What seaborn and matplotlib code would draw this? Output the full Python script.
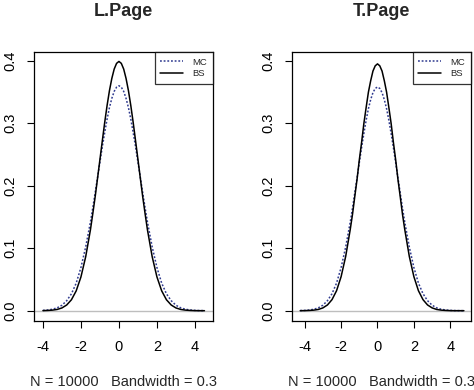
import pandas as pd
import seaborn as sns
import matplotlib.pyplot as plt

# values (density estimates; finer steps near the peak)
x_left = [-4.0, -3.75, -3.5, -3.25, -3.0, -2.75, -2.5, -2.25, -2.0, -1.75, -1.5, -1.375, -1.25,
          -1.125, -1.0, -0.875, -0.75, -0.625, -0.5, -0.375, -0.25, -0.125, 0.0,
          0.125, 0.25, 0.375, 0.5, 0.625, 0.75, 0.875, 1.0, 1.125, 1.25, 1.375, 1.5, 1.75,
          2.0, 2.25, 2.5, 2.75, 3.0, 3.25, 3.5, 3.75, 4.0, 4.25, 4.5]
bs_left = [0.0001, 0.0004, 0.0009, 0.0020, 0.0044, 0.0091, 0.0175, 0.0317, 0.0540, 0.0863,
           0.1295, 0.1555, 0.1826, 0.2121, 0.2420, 0.2718, 0.3011, 0.3282, 0.3521, 0.3716,
           0.3867, 0.3958, 0.3989,
           0.3958, 0.3867, 0.3716, 0.3521, 0.3282, 0.3011, 0.2718, 0.2420, 0.2121, 0.1826,
           0.1555, 0.1295, 0.0863, 0.0540, 0.0317, 0.0175, 0.0091, 0.0044, 0.0020,
           0.0009, 0.0004, 0.0001, 0.0000, 0.0000]
mc_left = [0.0005, 0.0011, 0.0023, 0.0046, 0.0087, 0.0160, 0.0270, 0.0440, 0.0690, 0.1020,
           0.1420, 0.1648, 0.1890, 0.2134, 0.2380, 0.2624, 0.2850, 0.3064, 0.3250, 0.3397,
           0.3510, 0.3577, 0.3600,
           0.3577, 0.3510, 0.3397, 0.3250, 0.3064, 0.2850, 0.2624, 0.2380, 0.2134, 0.1890,
           0.1648, 0.1420, 0.1020, 0.0690, 0.0440, 0.0270, 0.0160, 0.0087, 0.0046,
           0.0023, 0.0011, 0.0005, 0.0002, 0.0001]

x_right = [-4.25, -4.0, -3.75, -3.5, -3.25, -3.0, -2.75, -2.5, -2.25, -2.0, -1.75, -1.5, -1.375,
           -1.25, -1.125, -1.0, -0.875, -0.75, -0.625, -0.5, -0.375, -0.25, -0.125, 0.0,
           0.125, 0.25, 0.375, 0.5, 0.625, 0.75, 0.875, 1.0, 1.125, 1.25, 1.375, 1.5, 1.75,
           2.0, 2.25, 2.5, 2.75, 3.0, 3.25, 3.5, 3.75, 4.0, 4.25, 4.5, 4.75]
bs_right = [0.0000, 0.0001, 0.0004, 0.0009, 0.0020, 0.0045, 0.0092, 0.0177, 0.0320, 0.0545,
            0.0867, 0.1297, 0.1540, 0.1824, 0.2100, 0.2412, 0.2691, 0.2995, 0.3250, 0.3497,
            0.3680, 0.3835, 0.3919, 0.3950,
            0.3919, 0.3835, 0.3680, 0.3497, 0.3250, 0.2995, 0.2691, 0.2412, 0.2100, 0.1824,
            0.1540, 0.1297, 0.0867, 0.0545, 0.0320, 0.0177, 0.0092, 0.0045, 0.0020,
            0.0009, 0.0004, 0.0001, 0.0000, 0.0000, 0.0000]
mc_right = [0.0002, 0.0005, 0.0011, 0.0023, 0.0046, 0.0088, 0.0161, 0.0272, 0.0442, 0.0690,
            0.1018, 0.1415, 0.1639, 0.1882, 0.2122, 0.2370, 0.2609, 0.2835, 0.3047, 0.3232,
            0.3378, 0.3490, 0.3557, 0.3580,
            0.3557, 0.3490, 0.3378, 0.3232, 0.3047, 0.2835, 0.2609, 0.2370, 0.2122, 0.1882,
            0.1639, 0.1415, 0.1018, 0.0690, 0.0442, 0.0272, 0.0161, 0.0088, 0.0046,
            0.0023, 0.0011, 0.0005, 0.0002, 0.0001, 0.0000]

titles = ["L.Page", "T.Page"]
xlabel_text = "N = 10000   Bandwidth = 0.3"
x_ticks = [-4, -2, 0, 2, 4]
y_ticks = [0.0, 0.1, 0.2, 0.3, 0.4]

sns.set_style("ticks")
plt.rcParams['font.family'] = ['Liberation Sans', 'DejaVu Sans']

fig = plt.figure(figsize=(4.74, 3.90), dpi=100)
W, H = 474, 390
boxes = [(34, 213), (292, 471)]
xlims = [(-4.47, 4.95), (-4.70, 5.14)]
panels = [(x_left, mc_left, bs_left), (x_right, mc_right, bs_right)]

for i, (xs, mc, bs) in enumerate(panels):
    l, r = boxes[i]
    ax = fig.add_axes([l / W, (H - 321) / H, (r - l) / W, (321 - 52) / H])
    df = pd.DataFrame({
        'x': list(xs) + list(xs),
        'density': list(mc) + list(bs),
        'method': ['MC'] * len(xs) + ['BS'] * len(xs),
    })
    ax.axhline(0, color='#bebebe', lw=1.0, zorder=1)
    sns.lineplot(data=df, x='x', y='density', hue='method', style='method',
                 palette={'MC': '#2f3a8f', 'BS': 'black'},
                 dashes={'MC': (1.2, 1.2), 'BS': ''},
                 hue_order=['MC', 'BS'], style_order=['MC', 'BS'],
                 lw=1.1, ax=ax, zorder=2)
    ax.set_xlim(*xlims[i])
    ax.set_ylim(-0.0165, 0.414)
    ax.set_xticks(x_ticks)
    ax.set_xticklabels([str(t) for t in x_ticks])
    ax.set_yticks(y_ticks)
    ax.set_yticklabels([f"{t:.1f}" for t in y_ticks], rotation=90, va='center')
    ax.tick_params(axis='both', direction='out', length=5, width=0.8,
                   labelsize=10.5, colors='black')
    ax.tick_params(axis='x', pad=9)
    ax.tick_params(axis='y', pad=7)
    for s in ax.spines.values():
        s.set_visible(True)
        s.set_linewidth(0.9)
        s.set_color('black')
    ax.set_xlabel(xlabel_text, fontsize=10.5, labelpad=14.5)
    ax.set_ylabel('')
    ax.set_title(titles[i], fontsize=13, fontweight='bold', pad=26)
    leg = ax.legend(loc='upper right', fontsize=6.8, frameon=True, fancybox=False,
                    borderaxespad=0, handlelength=2.4, handletextpad=1.0,
                    borderpad=0.6, labelspacing=0.3)
    leg.get_frame().set_edgecolor('black')
    leg.get_frame().set_linewidth(0.9)
    leg.set_title(None)

fig.savefig('out.png', dpi=100)
